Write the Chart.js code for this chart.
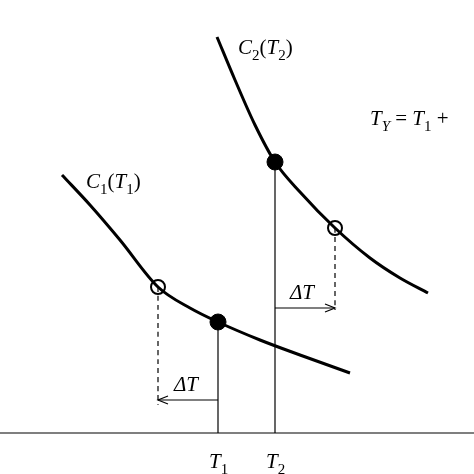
<!DOCTYPE html>
<html>
<head>
<meta charset="utf-8">
<script src="https://cdn.jsdelivr.net/npm/chart.js@4"></script>
<style>
  html, body { margin: 0; padding: 0; background: #fff; }
  #wrap { width: 474px; height: 474px; }
</style>
</head>
<body>
<div id="wrap"><canvas id="c"></canvas></div>
<script>
// coordinates in a 0..474 frame, y measured downward
const curve1 = [[62,175],[90,205],[120,240],[158,287],[190,308],[218,322],[260,340],[300,355],[350,373]];
const curve2 = [[217,37],[235,80],[255,125],[275,162],[300,192],[335,228],[370,258],[400,278],[428,293]];
const filledPts = [[218,322],[275,162]];
const openPts = [[158,287],[335,228]];
const solidDrops = [[[218,322],[218,433]], [[275,162],[275,433]]];
const dashedDrops = [[[158,287],[158,405]], [[335,228],[335,310]]];
const arrows = [[[218,400],[158,400]], [[275,308],[335,308]]];
const baseline = [[0,433],[474,433]];

const pts = a => a.map(p => ({ x: p[0], y: p[1] }));
const lineSet = (d, w, dash) => ({ type: "line", data: pts(d), borderColor: "#000", borderWidth: w,
  borderDash: dash || [], pointRadius: 0, cubicInterpolationMode: "monotone", fill: false });

const datasets = [
  lineSet(curve1, 3), lineSet(curve2, 3), lineSet(baseline, 1.2),
  ...solidDrops.map(d => lineSet(d, 1.2)),
  ...dashedDrops.map(d => lineSet(d, 1.2, [5, 4])),
  ...arrows.map(d => lineSet(d, 1.2)),
  { type: "scatter", data: pts(filledPts), pointRadius: 8, backgroundColor: "#000", borderColor: "#000" },
  { type: "scatter", data: pts(openPts), pointRadius: 7, backgroundColor: "#fff", borderColor: "#000", borderWidth: 2 }
];

function label(ctx, x, y, parts) {
  // parts: [text, italic, sub]
  let cx = x;
  parts.forEach(([t, it, sub]) => {
    ctx.font = (it ? "italic " : "") + (sub ? "15px" : "21px") + " 'Liberation Serif'";
    ctx.fillText(t, cx, sub ? y + 6 : y);
    cx += ctx.measureText(t).width;
  });
}

const deco = {
  id: "deco",
  afterDatasetsDraw(chart) {
    const { ctx, scales: { x, y } } = chart;
    ctx.save();
    ctx.fillStyle = "#000"; ctx.strokeStyle = "#000"; ctx.lineWidth = 1.2;
    arrows.forEach(([a, b]) => {
      const tx = x.getPixelForValue(b[0]), ty = y.getPixelForValue(b[1]);
      const dir = Math.sign(b[0] - a[0]);
      ctx.beginPath();
      ctx.moveTo(tx - dir * 10, ty - 4); ctx.lineTo(tx, ty); ctx.lineTo(tx - dir * 10, ty + 4);
      ctx.stroke();
    });
    ctx.textBaseline = "alphabetic";
    const P = (vx, vy) => [x.getPixelForValue(vx), y.getPixelForValue(vy)];
    label(ctx, ...P(86, 188), [["C", true], ["1", false, true], ["(", false], ["T", true], ["1", false, true], [")", false]]);
    label(ctx, ...P(238, 54), [["C", true], ["2", false, true], ["(", false], ["T", true], ["2", false, true], [")", false]]);
    label(ctx, ...P(370, 125), [["T", true], ["Y", true, true], [" = ", false], ["T", true], ["1", false, true], [" +", false]]);
    label(ctx, ...P(174, 391), [["ΔT", true]]);
    label(ctx, ...P(290, 299), [["ΔT", true]]);
    label(ctx, ...P(209, 468), [["T", true], ["1", false, true]]);
    label(ctx, ...P(266, 468), [["T", true], ["2", false, true]]);
    ctx.restore();
  }
};

new Chart(document.getElementById("c"), {
  data: { datasets },
  options: {
    responsive: true, maintainAspectRatio: false, animation: false,
    layout: { padding: 0, autoPadding: false },
    plugins: { legend: { display: false }, tooltip: { enabled: false } },
    scales: {
      x: { type: "linear", min: 0, max: 474, display: false },
      y: { type: "linear", min: 0, max: 474, reverse: true, display: false }
    }
  },
  plugins: [deco]
});
</script>
</body>
</html>
